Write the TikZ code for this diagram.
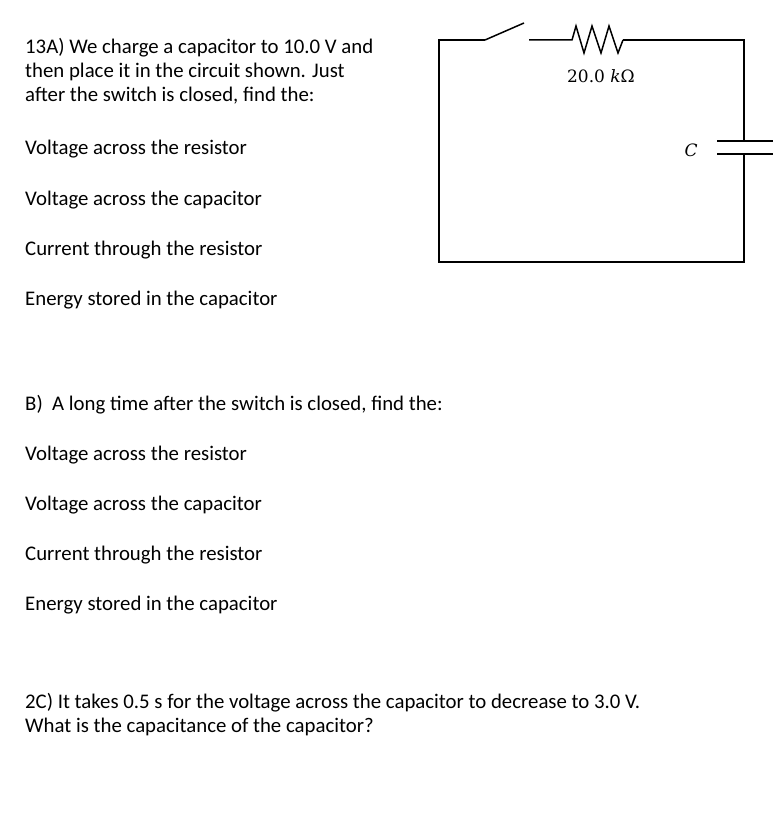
\documentclass[tikz,border=0pt]{standalone}
\usepackage{fontspec}
\setmainfont{Carlito}
\newfontfamily\camb{DejaVu Serif}
\begin{document}
\begin{tikzpicture}[x=1pt,y=-1pt,
  txt/.style={anchor=base west,inner sep=0pt,font=\fontsize{20.8}{24}\selectfont},
  lbl/.style={inner sep=0pt,font=\camb\fontsize{17}{20}\selectfont},
  wire/.style={line width=1.5pt,line join=miter}]
\useasboundingbox (0,0) rectangle (777,829);
\foreach \t/\y [count=\i] in {
 {13A) We charge a capacitor to 10.0 V and}/54,
 {then place it in the circuit shown. Just}/78,
 {after the switch is closed, find the:}/102,
 {Voltage across the resistor}/155,
 {Voltage across the capacitor}/205,
 {Current through the resistor}/255,
 {Energy stored in the capacitor}/305,
 {B)\ \ A long time after the switch is closed, find the:}/410,
 {Voltage across the resistor}/460,
 {Voltage across the capacitor}/510,
 {Current through the resistor}/560,
 {Energy stored in the capacitor}/610,
 {2C) It takes 0.5 s for the voltage across the capacitor to decrease to 3.0 V.}/708,
 {What is the capacitance of the capacitor?}/732}
 \node[txt] (t\i) at (25,\y) {\t};
% circuit
\coordinate (tl) at (439,40);
\coordinate (bl) at (439,262);
\coordinate (br) at (744,262);
\coordinate (tr) at (744,40);
\coordinate (s1) at (485,40);
\coordinate (s2) at (524,23);
\coordinate (s3) at (529,40);
\coordinate (r1) at (572,40);
\coordinate (r2) at (623,40);
\coordinate (c1) at (744,141);
\coordinate (c2) at (744,154);
\draw[wire] (s1) -- (tl) -- (bl) -- (br) -- (c2);
\draw[wire] (c1) -- (tr) -- (r2);
\draw[wire] (s1) -- (s2);
\draw[wire] (s3) -- (r1) -- (576,26) -- (584,53) -- (592,26) -- (601,53) -- (609,26) -- (618,53) -- (r2);
\draw[wire] (717,141) -- (773,141);
\draw[wire] (717,154) -- (773,154);
\node[lbl,anchor=base] (rl) at (601,83) {20.0 \textit{k}Ω};
\node[lbl,anchor=base] (cl) at (691,157) {\textit{C}};
\end{tikzpicture}
\end{document}
